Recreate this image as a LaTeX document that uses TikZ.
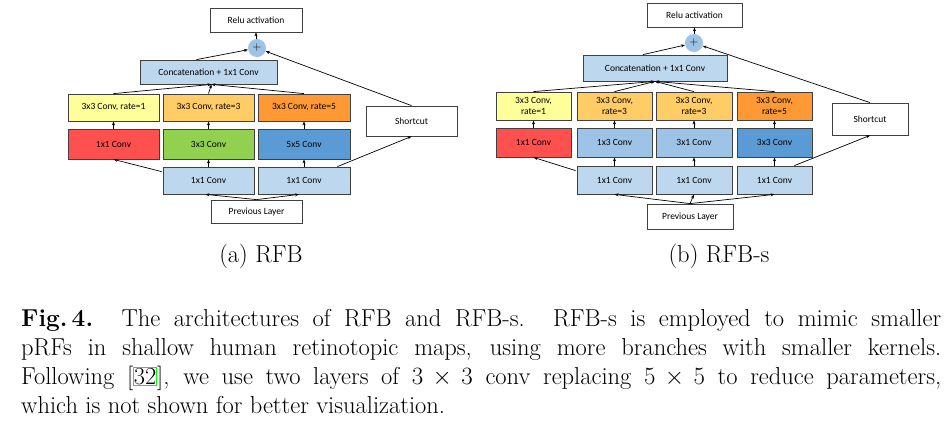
\documentclass[tikz,border=0pt]{standalone}
\usepackage{fontspec}
\newfontfamily\boxfont{Carlito}
\usetikzlibrary{arrows.meta}
\definecolor{cred}{HTML}{FF5050}
\definecolor{cgreen}{HTML}{92D050}
\definecolor{cblue}{HTML}{5B9BD5}
\definecolor{clblue}{HTML}{BDD7EE}
\definecolor{cmblue}{HTML}{9DC3E6}
\definecolor{cyel}{HTML}{FFFF99}
\definecolor{clor}{HTML}{FFCC66}
\definecolor{cor}{HTML}{FF9933}
\definecolor{linkgreen}{HTML}{00FF00}
\tikzset{
  box/.style={draw=black!75,line width=0.8pt,inner sep=0pt,align=center,font=\boxfont\fontsize{9.5}{11}\selectfont},
  arr/.style={-{Stealth[length=4pt,width=3pt]},line width=0.7pt},
  plus/.style={circle,fill=cmblue,minimum size=18pt,inner sep=0pt,font=\large}
}
\newcommand{\bx}[7]{\node[box,fill=#6,minimum width={(#4-#2)*1pt},minimum height={(#5-#3)*1pt}] (#1) at ({(#2+#4)/2},{(#3+#5)/2}) {#7};}
\begin{document}
\begin{tikzpicture}[x=1pt,y=-1pt]
\useasboundingbox[fill=white] (0,0) rectangle (949,429);
% ---- (a) RFB
\bx{aR}{210}{8}{302}{32}{white}{Relu activation}
\node[plus] (aP) at (257,48) {+};
\bx{aC}{140}{60}{277}{84}{clblue}{Concatenation + 1x1 Conv}
\bx{a31}{68}{94}{159}{121}{cyel}{3x3 Conv, rate=1}
\bx{a32}{163}{94}{254}{121}{clor}{3x3 Conv, rate=3}
\bx{a33}{258}{94}{350}{121}{cor}{3x3 Conv, rate=5}
\bx{a21}{68}{129}{159}{159}{cred}{1x1 Conv}
\bx{a22}{163}{129}{254}{159}{cgreen}{3x3 Conv}
\bx{a23}{258}{129}{350}{159}{cblue}{5x5 Conv}
\bx{a12}{163}{167}{254}{194}{clblue}{1x1 Conv}
\bx{a13}{258}{167}{350}{194}{clblue}{1x1 Conv}
\bx{aPL}{211}{200}{302}{223}{white}{Previous Layer}
\bx{aS}{366}{106}{457}{136}{white}{Shortcut}
\draw[arr] (aR.south|-aP.north) -- (aR.south);
\draw[arr] (aC.north) ++(-12,0) -- (aP);
\draw[arr] (aS.north) -- (aP);
\foreach \b in {a31,a32,a33} \draw[arr] (\b.north) -- ([xshift=3pt]aC.south);
\draw[arr] (a21.north) -- (a31.south);
\draw[arr] (a22.north) -- (a32.south);
\draw[arr] (a23.north) -- (a33.south);
\draw[arr] (a12.north) -- (a22.south);
\draw[arr] (a13.north) -- (a23.south);
\draw[arr] ([xshift=-1pt,yshift=-5pt]a12.north west) -- (a21.south);
\draw[arr] ([xshift=-13pt]a13.north east) -- (aS.south);
\draw[arr] (aPL.north) -- ([xshift=-3pt]a12.south);
\draw[arr] (aPL.north) -- ([xshift=-5pt]a13.south);
% ---- (b) RFB-s
\bx{bR}{647}{3}{742}{27}{white}{Relu activation}
\node[plus] (bP) at (694,43) {+};
\bx{bC}{583}{55}{727}{81}{clblue}{Concatenation + 1x1 Conv}
\bx{b31}{496}{92}{571}{120}{cyel}{3x3 Conv,\\rate=1}
\bx{b32}{577}{92}{652}{120}{clor}{3x3 Conv,\\rate=3}
\bx{b33}{656}{92}{732}{120}{clor}{3x3 Conv,\\rate=3}
\bx{b34}{737}{92}{812}{120}{cor}{3x3 Conv,\\rate=5}
\bx{b21}{496}{128}{571}{157}{cred}{1x1 Conv}
\bx{b22}{577}{128}{652}{157}{cmblue}{1x3 Conv}
\bx{b23}{656}{128}{732}{157}{cmblue}{3x1 Conv}
\bx{b24}{737}{128}{812}{157}{cblue}{3x3 Conv}
\bx{b12}{577}{166}{652}{194}{clblue}{1x1 Conv}
\bx{b13}{656}{166}{732}{194}{clblue}{1x1 Conv}
\bx{b14}{737}{166}{812}{194}{clblue}{1x1 Conv}
\bx{bPL}{647}{204}{733}{229}{white}{Previous Layer}
\bx{bS}{832}{103}{908}{135}{white}{Shortcut}
\draw[arr] (bR.south|-bP.north) -- (bR.south);
\draw[arr] (bC.north) ++(-12,0) -- (bP);
\draw[arr] (bS.north) -- (bP);
\foreach \b in {b31,b32,b33,b34} \draw[arr] (\b.north) -- (bC.south);
\draw[arr] (b21.north) -- (b31.south);
\draw[arr] (b22.north) -- (b32.south);
\draw[arr] (b23.north) -- (b33.south);
\draw[arr] (b24.north) -- (b34.south);
\draw[arr] (b12.north) -- (b22.south);
\draw[arr] (b13.north) -- (b23.south);
\draw[arr] (b14.north) -- (b24.south);
\draw[arr] ([xshift=-1pt,yshift=-5pt]b12.north west) -- (b21.south);
\draw[arr] ([xshift=-18pt]b14.north east) -- (bS.south);
\foreach \b in {b12,b13,b14} \draw[arr] (bPL.north) -- (\b.south);
% captions
\node[font=\fontsize{24.5}{29}\selectfont,anchor=base] (ca) at (261,262) {(a) RFB};
\node[font=\fontsize{24.5}{29}\selectfont,anchor=base] (cb) at (719,262) {(b) RFB-s};
\node[anchor=north west,inner sep=0pt,text width=920pt,align=justify,font=\fontsize{24.5}{29}\selectfont] (cap) at (21,309)
{\textbf{Fig.\,4.} The architectures of RFB and RFB-s. RFB-s is employed to mimic smaller\linebreak pRFs in shallow human retinotopic maps, using more branches with smaller kernels.\linebreak Following [{\setlength\fboxsep{0pt}\setlength\fboxrule{0.8pt}\fcolorbox{linkgreen}{white}{32}}], we use two layers of $3\times3$ conv replacing $5\times5$ to reduce parameters,\linebreak which is not shown for better visualization.\par};
\end{tikzpicture}
\end{document}
